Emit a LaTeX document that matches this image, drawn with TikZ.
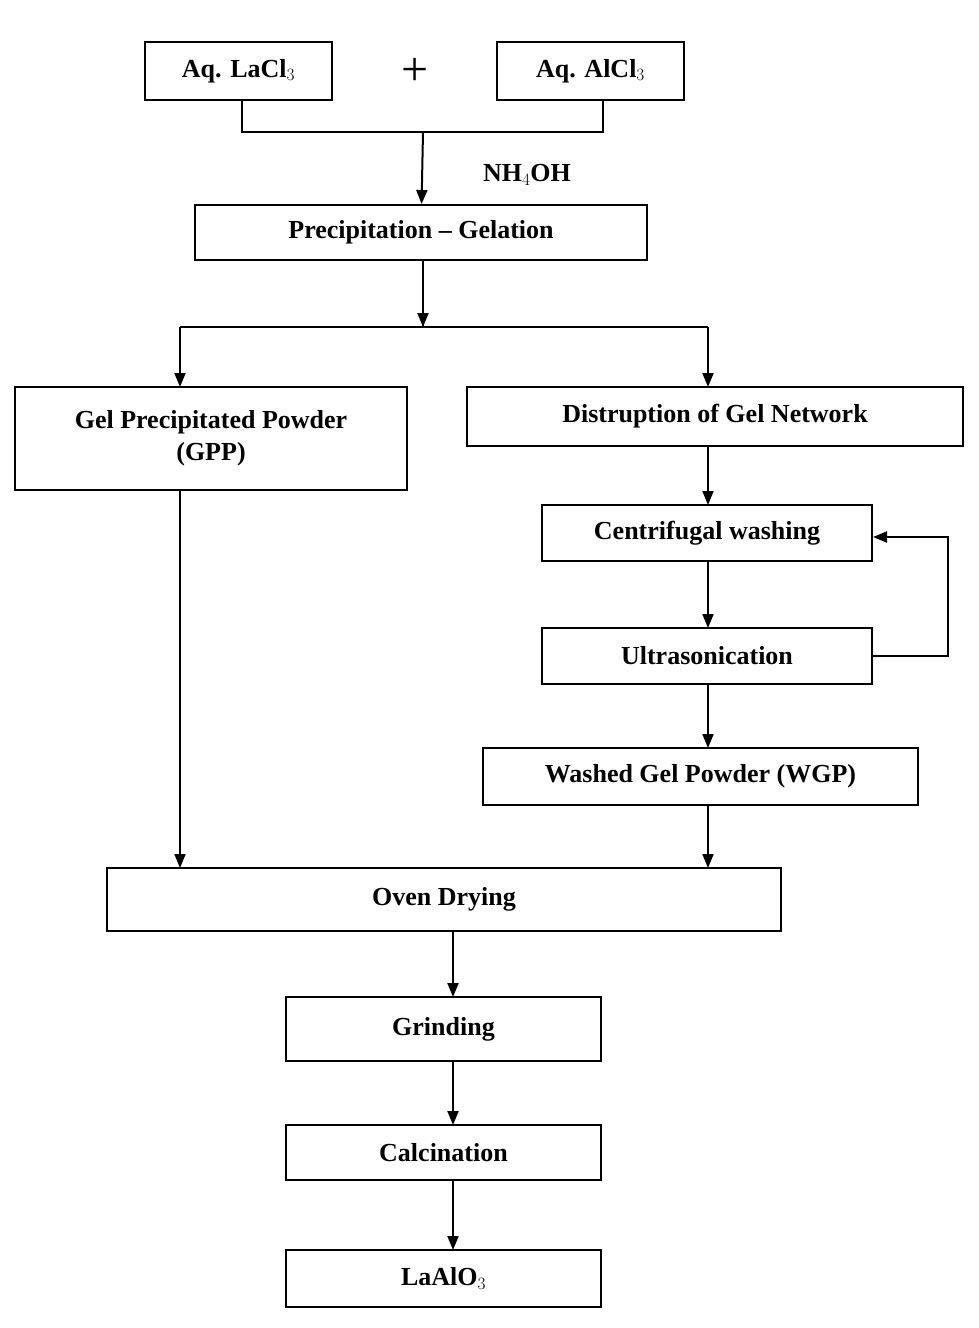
\documentclass[tikz,border=0pt]{standalone}
\usepackage{fontspec}
\setmainfont{Liberation Serif}
\usetikzlibrary{arrows.meta}
\begin{document}
\begin{tikzpicture}[x=1pt,y=-1pt,line width=2pt,
  box/.style={draw,rectangle,inner sep=0pt,font=\fontsize{26}{32}\selectfont\bfseries,align=center},
  arr/.style={-{Triangle[length=14pt,width=11pt]}}]
\useasboundingbox (0,0) rectangle (979,1328);
\newcommand{\bx}[5]{\node[box,minimum width=#4-#2,minimum height=#5-#3] (#1) at ({(#2+#4)/2},{(#3+#5)/2}) {};}
\node[box,minimum width=187pt,minimum height=58pt] (la) at (238.5,71) {Aq. LaCl$_3$};
\node[box,minimum width=187pt,minimum height=58pt] (al) at (590.5,71) {Aq. AlCl$_3$};
\node[font=\fontsize{48}{50}\selectfont] (plus) at (415,72) {+};
\coordinate (j) at (423,132);
\node[box,minimum width=452pt,minimum height=55pt] (pg) at (421,232.5) {Precipitation -- Gelation};
\node[font=\fontsize{26}{32}\selectfont\bfseries] (nh) at (527,175) {NH$_4$OH};
\draw (242,100) -- (242,132) -- (603,132) -- (603,100);
\draw[arr] (j) -- (pg);
\node[box,minimum width=392pt,minimum height=103pt] (gpp) at (211,438.5) {Gel Precipitated Powder\\(GPP)};
\node[box,minimum width=496pt,minimum height=59pt] (dg) at (715,416.5) {Distruption of Gel Network};
\coordinate (s) at (423,327);
\draw (pg.south -| s) -- (s);
\draw[arr] (423,260) -- (s);
\draw (180,327) -- (708,327);
\draw[arr] (180,327) -- (180,387);
\draw[arr] (708,327) -- (708,387);
\node[box,minimum width=330pt,minimum height=56pt] (cw) at (707,533) {Centrifugal washing};
\node[box,minimum width=330pt,minimum height=56pt] (us) at (707,656) {Ultrasonication};
\node[box,minimum width=435pt,minimum height=57pt] (wgp) at (700.5,776.5) {Washed Gel Powder (WGP)};
\node[box,minimum width=674pt,minimum height=63pt] (od) at (444,899.5) {Oven Drying};
\node[box,minimum width=315pt,minimum height=64pt] (gr) at (443.5,1029) {Grinding};
\node[box,minimum width=315pt,minimum height=55pt] (ca) at (443.5,1152.5) {Calcination};
\node[box,minimum width=315pt,minimum height=57pt] (lao) at (443.5,1278.5) {LaAlO$_3$};
\draw[arr] (708,446) -- (708,505);
\draw[arr] (708,561) -- (708,628);
\draw[arr] (708,684) -- (708,748);
\draw[arr] (708,805) -- (708,868);
\draw[arr] (180,490) -- (180,868);
\draw[arr] (us.east) -- (948,656) -- (948,537) -- (cw.east |- 0,537);
\draw[arr] (453,931) -- (453,997);
\draw[arr] (453,1061) -- (453,1125);
\draw[arr] (453,1180) -- (453,1250);
\end{tikzpicture}
\end{document}
